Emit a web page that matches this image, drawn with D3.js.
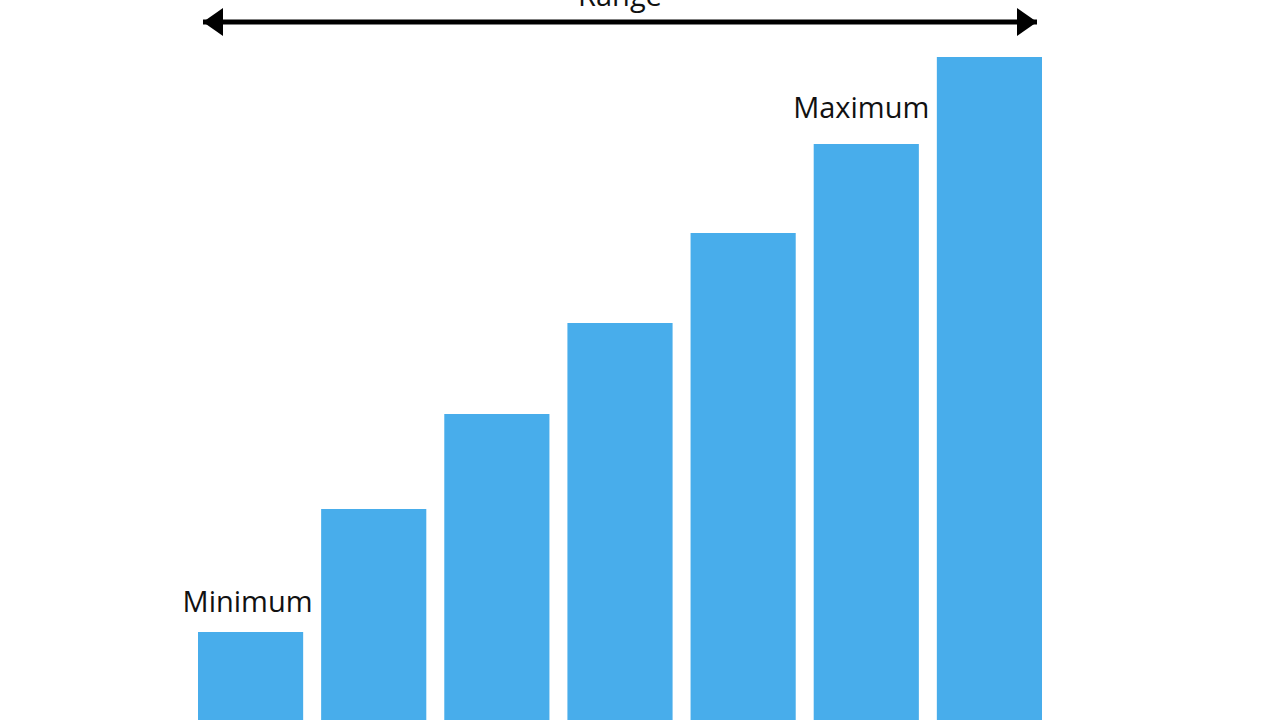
<!DOCTYPE html>
<html>
<head>
<meta charset="utf-8">
<script src="https://cdn.jsdelivr.net/npm/d3@7"></script>
<style>
    html, body { margin: 0; padding: 0; background: #fff; overflow: hidden; }
    svg { display: block; }
    text { font-family: "Open Sans", "Noto Sans", sans-serif; fill: #111; }
</style>
</head>
<body>
<svg id="chart" width="1280" height="720"></svg>
<script>
// bar heights
const categories = ['1', '2', '3', '4', '5', '6', '7'];
const values = [88, 211, 306, 397, 487, 576, 663];
const rangeLabel = 'Range';
const minLabel = 'Minimum';
const maxLabel = 'Maximum';

const svg = d3.select('#chart');
const width = 1280, height = 720;

const x = d3.scaleBand().domain(categories).range([198, 1042]).paddingInner(0.146).paddingOuter(0);
const y = d3.scaleLinear().domain([0, 720]).range([height, 0]);

svg.append('g').selectAll('rect')
    .data(values)
    .join('rect')
    .attr('x', (d, i) => x(categories[i]))
    .attr('y', d => y(d))
    .attr('width', x.bandwidth())
    .attr('height', d => height - y(d))
    .attr('fill', '#48adeb');

// range arrow above the bars
const defs = svg.append('defs');
defs.append('marker')
    .attr('id', 'head')
    .attr('viewBox', '0 0 10 14')
    .attr('refX', 10).attr('refY', 7)
    .attr('markerWidth', 20).attr('markerHeight', 28)
    .attr('markerUnits', 'userSpaceOnUse')
    .attr('orient', 'auto-start-reverse')
    .append('path')
    .attr('d', 'M0,0L10,7L0,14Z')
    .attr('fill', '#000');

const arrowY = 22;
svg.append('line')
    .attr('x1', x(categories[0]) + 5).attr('x2', x(categories[6]) + x.bandwidth() - 5)
    .attr('y1', arrowY).attr('y2', arrowY)
    .attr('stroke', '#000').attr('stroke-width', 5)
    .attr('marker-start', 'url(#head)')
    .attr('marker-end', 'url(#head)');

svg.append('text')
    .attr('x', 620).attr('y', 6)
    .attr('text-anchor', 'middle')
    .attr('font-size', 29)
    .text(rangeLabel);

const first = values[0];
svg.append('text')
    .attr('x', x(categories[0]) + x.bandwidth() / 2 - 3)
    .attr('y', y(first) - 20)
    .attr('text-anchor', 'middle')
    .attr('font-size', 29)
    .text(minLabel);

svg.append('text')
    .attr('x', x(categories[5]) + x.bandwidth() / 2 - 5)
    .attr('y', y(values[5]) - 26)
    .attr('text-anchor', 'middle')
    .attr('font-size', 29)
    .text(maxLabel);
</script>
</body>
</html>
